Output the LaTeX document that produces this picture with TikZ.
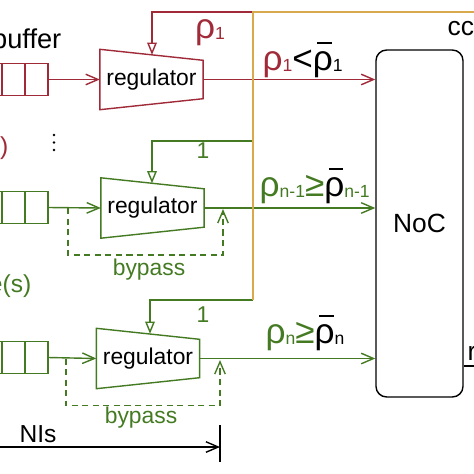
\documentclass[tikz,border=0pt]{standalone}
\usepackage{fontspec}
\setmainfont{Liberation Sans}
\usetikzlibrary{arrows.meta,calc}
\definecolor{regred}{HTML}{A02A38}
\definecolor{reggreen}{HTML}{447A22}
\definecolor{ctlyel}{HTML}{D9A94E}
\newcommand{\fs}[1]{\fontsize{#1}{#1}\selectfont}
\newcommand{\lsub}[1]{\raisebox{-0.8pt}{\fs{10}#1}}
\newcommand{\rhobar}{\sbox0{ρ}\rlap{\hspace{0.22\wd0}\raisebox{\dimexpr\ht0+4pt}{\rule{0.72\wd0}{1.1pt}}}ρ}

\begin{document}
\begin{tikzpicture}[x=0.02cm,y=-0.02cm,line width=0.8pt,
   flow/.style={-{Straight Barb[length=7pt,width=6pt]}},
   fbk/.style={-{Triangle[open,length=7pt,width=5.5pt]}},
   bypass/.style={dash pattern=on 3.5pt off 2.5pt,-{Straight Barb[length=7pt,width=6pt]}},
   cell/.style={draw,minimum width=0.46cm,minimum height=0.64cm,inner sep=0pt,outer sep=0pt},
   reg/.style={minimum width=2.04cm,minimum height=1.18cm,inner sep=0pt,font=\fs{13}},
   lbl/.style={inner sep=0pt,font=\fs{20}},
   txt/.style={inner sep=0pt,font=\fs{14}},
]
\useasboundingbox (0,0) rectangle (474,474);
\clip (0,0) rectangle (474,474);

% buffers
\foreach \n/\y/\c in {1/79.5/regred,2/207.5/reggreen,3/357.5/reggreen}{
  \node[cell,draw=\c] (b\n z) at (-9.5,\y) {};
  \node[cell,draw=\c] (b\n a) at (13.5,\y) {};
  \node[cell,draw=\c] (b\n b) at (36.5,\y) {};
}

% regulators
\node[reg] (reg1) at (151.5,79.5) {regulator};
\node[reg] (reg2) at (152.5,208) {regulator};
\node[reg] (reg3) at (148,358.5) {regulator};
\foreach \r/\c in {reg1/regred,reg2/reggreen,reg3/reggreen}
  \draw[\c] (\r.north west) -- ($(\r.north east)+(0,11)$)
     -- ($(\r.south east)+(0,-11)$) -- (\r.south west) -- cycle;

% NoC
\node[draw,rounded corners=6pt,minimum width=1.74cm,minimum height=6.94cm,
      font=\fs{15}] (noc) at (419.5,223.5) {NoC};

% inputs and outputs
\draw[flow,regred] (b1b.east) -- (reg1.west);
\draw[flow,reggreen] (b2b.east) -- (reg2.west);
\draw[flow,reggreen] (b3b.east) -- (reg3.west);
\draw[flow,regred] (reg1.east) -- (reg1.east -| noc.west);
\draw[flow,reggreen] (reg2.east) -- (reg2.east -| noc.west);
\draw[flow,reggreen] (reg3.east) -- (reg3.east -| noc.west);

% bypass paths
\coordinate (bp2in) at (68,208);
\coordinate (bp2out) at (223,209);
\coordinate (bp3in) at (66,358.5);
\coordinate (bp3out) at (220,360);
\draw[bypass,reggreen] (bp2in) -- ++(0,47) -| (bp2out);
\draw[bypass,reggreen] (bp3in) -- ++(0,47) -| (bp3out);
\node[txt,font=\fs{13},text=reggreen] (byp2) at (149,270) {bypass};
\node[txt,font=\fs{13},text=reggreen] (byp3) at (141,418) {bypass};

% control lines
\coordinate (ctl1) at (253,12);
\coordinate (ctl2) at (253,141);
\coordinate (ctl3) at (253,300);
\coordinate (ccout) at (480,12);
\draw[fbk,regred] (ctl1) -| ($(reg1.north)+(0.5,5.5)$);
\draw[fbk,reggreen] (ctl2) -| ($(reg2.north)+(-0.5,5.5)$);
\draw[fbk,reggreen] (ctl3) -| ($(reg3.north)+(2,5.5)$);
\draw[ctlyel] (ccout) -- (ctl1) -- (ctl3);

\node[lbl,anchor=base,text=regred] (rho1) at (210,38) {ρ\lsub{1}};
\node[txt,font=\fs{13},anchor=base,text=reggreen] (one2) at (203,158) {1};
\node[txt,font=\fs{13},anchor=base,text=reggreen] (one3) at (203,322) {1};

% rate labels
\node[lbl,anchor=base west] (cmp1) at (262,70)
   {\textcolor{regred}{ρ\lsub{1}}<\rhobar\lsub{1}};
\node[lbl,anchor=base west] (cmp2) at (259,196)
   {\textcolor{reggreen}{ρ\lsub{n-1}≥}\rhobar\textcolor{reggreen}{\lsub{n-1}}};
\node[lbl,anchor=base west] (cmp3) at (265,343)
   {\textcolor{reggreen}{ρ\lsub{n}≥}\rhobar\lsub{n}};

% side texts
\node[txt,font=\fs{15.5},anchor=base east] (buf) at (62,48) {buffer};
\node[txt,anchor=base east,text=regred] (flr) at (9,154) {(s)};
\node[txt,anchor=base east,text=reggreen] (flg) at (32,292) {e(s)};
\node[txt,font=\fs{15},anchor=base west] (cc) at (447,35) {cc};
\node[txt,font=\fs{15},anchor=base west] (rr) at (467,360) {r};
\coordinate (rrl) at (480,366);
\draw (rrl) -- (rrl -| noc.east);
\foreach \y [count=\i] in {135,142.5,150}
  \fill (54,\y) circle (1.4) coordinate (dot\i);

% NIs span
\coordinate (nis0) at (-5,447);
\coordinate (nis1) at (220,447);
\coordinate (tickt) at (220,425);
\coordinate (tickb) at (220,462);
\draw[flow] (nis0) -- (nis1);
\draw (tickt) -- (tickb);
\node[txt,anchor=base] (nis) at (38,442) {NIs};
\end{tikzpicture}
\end{document}
